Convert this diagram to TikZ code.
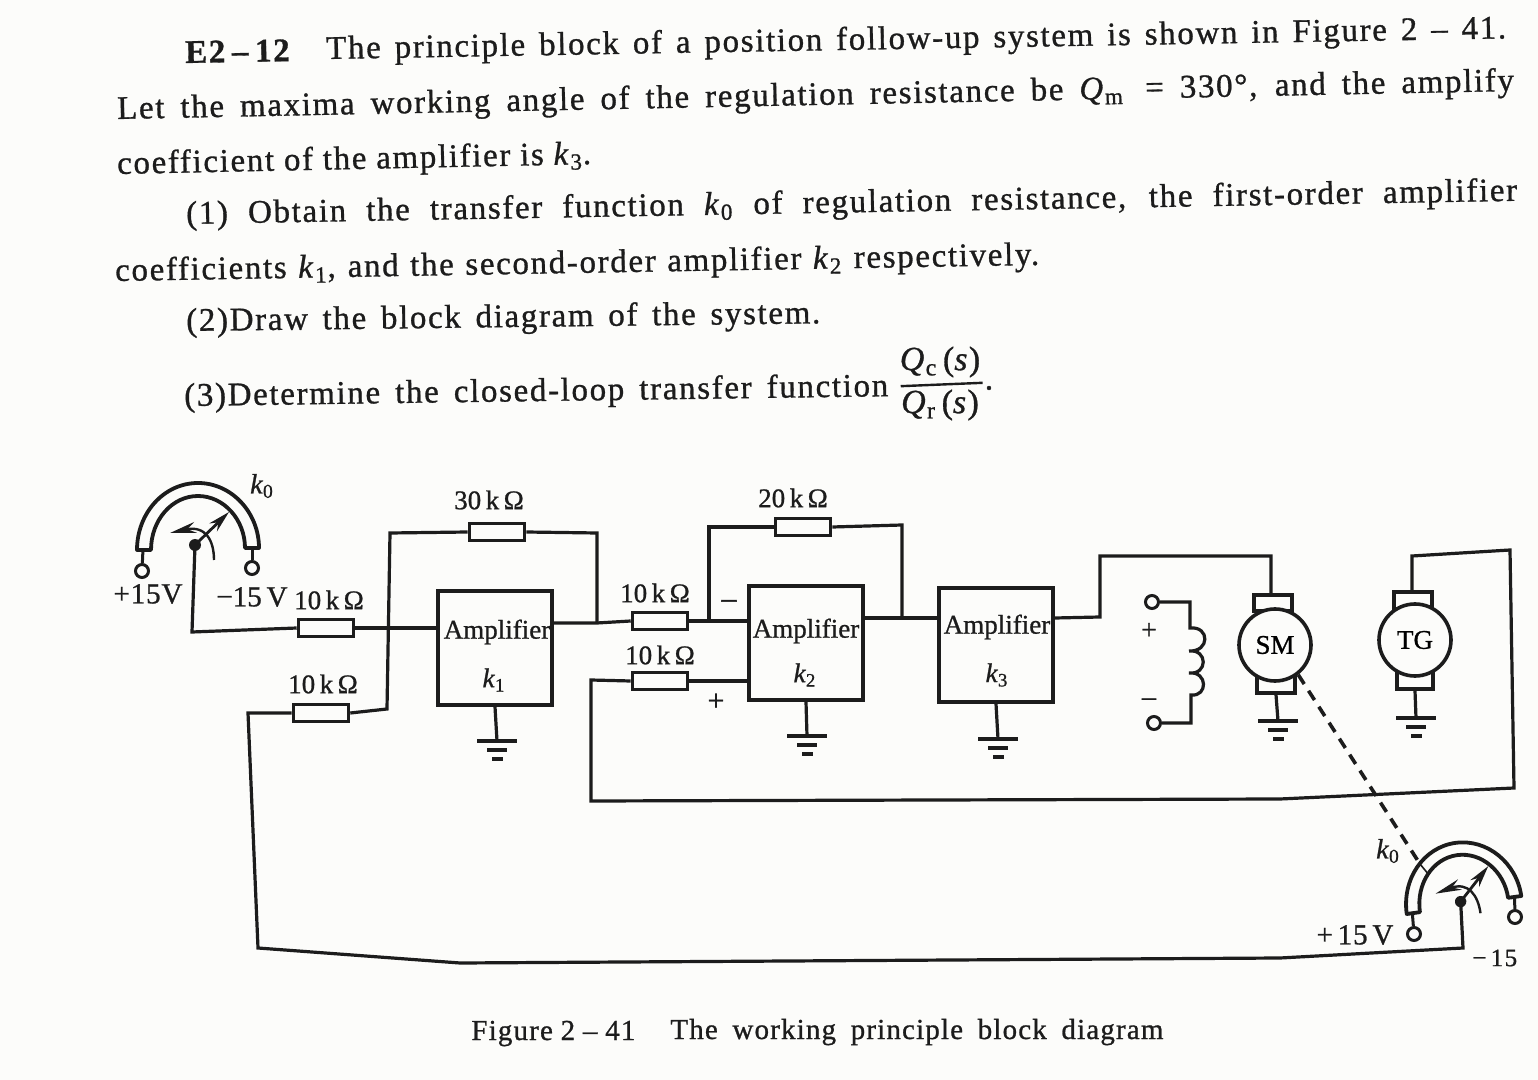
\documentclass[tikz,border=0pt]{standalone}
\usepackage{fontspec}
\setmainfont{Liberation Serif}[RawFeature={embolden=0.9}]
\usetikzlibrary{arrows.meta,calc}
\definecolor{paper}{HTML}{FCFCFA}
\definecolor{ink}{HTML}{1C1C1C}
\newcommand{\ksub}[1]{\textit{k}\textsubscript{#1}}
\newcommand{\Qsub}[1]{\textit{Q}\textsubscript{#1}}
\newcommand{\sprd}[2]{\makebox[\dimexpr #1pt/2\relax][s]{#2}}
\tikzset{
  wire/.style={draw=ink,line width=1.6pt,line join=miter},
  res/.style={draw=ink,line width=1.8pt,fill=paper,minimum width=27.5pt,minimum height=8.5pt,inner sep=0pt},
  amp/.style={draw=ink,line width=1.8pt,minimum width=57pt,minimum height=57pt,inner sep=0pt},
  term/.style={circle,draw=ink,line width=1.5pt,fill=paper,minimum size=6.5pt,inner sep=0pt},
  brush/.style={draw=ink,line width=1.7pt,fill=paper,inner sep=0pt},
  motor/.style={circle,draw=ink,line width=1.8pt,fill=paper,minimum size=36pt,inner sep=0pt,font=\fontsize{13.5}{15}\selectfont},
  lab/.style={inner sep=0pt,text=ink,font=\fontsize{13.5}{15}\selectfont},
  para/.style={inner sep=0pt,anchor=base west,text=ink,font=\fontsize{16.5}{18}\selectfont\addfontfeature{LetterSpace=5}},
  captxt/.style={inner sep=0pt,anchor=base west,text=ink,font=\fontsize{14.5}{17}\selectfont\addfontfeature{LetterSpace=4}},
  gnd/.pic={
    \coordinate (-t) at (0,0);
    \draw[draw=ink,line width=1.7pt] (-20,0) -- (20,0);
    \draw[draw=ink,line width=1.7pt] (-10,9) -- (10,9);
    \draw[draw=ink,line width=2.4pt] (-5,18) -- (6,18);
  },
  pot/.pic={
    \coordinate (-w) at (-3,-4);
    \coordinate (-a) at (-55,0);
    \coordinate (-b) at (54,-2);
    \draw[draw=ink,line width=1.9pt,fill=paper,line join=round]
      (-61,1) .. controls (-61,-36) and (-34,-66) .. (0,-66)
      .. controls (34,-66) and (61,-36) .. (61,-1)
      -- (47,-1) .. controls (47,-29) and (26,-53) .. (0,-53)
      .. controls (-26,-53) and (-47,-29) .. (-47,1) -- cycle;
    \fill[ink] (-3,-4) circle (6);
    \draw[draw=ink,line width=1.4pt,-{Stealth[length=11pt,width=5.5pt]}] (-3,-4) -- (31,-37);
    \draw[draw=ink,line width=1.2pt,-{Stealth[length=13pt,width=5.5pt]}] (16,11) .. controls (16,-8) and (8,-24) .. (-28,-16);
  }
}
\begin{document}
\begin{tikzpicture}[x=0.5pt,y=-0.5pt]
\useasboundingbox[fill=paper] (0,0) rectangle (1538,1080);

% text
\node[para,rotate=1.04] (t1a) at (185,63) {\sprd{104}{\bfseries E2 -- 12}};
\node[para,rotate=1.0] (t1b) at (326,59) {\sprd{1180}{The principle block of a position follow-up system is shown in Figure 2 -- 41.}};
\node[para,rotate=1.15] (t2) at (117,119) {\sprd{1397}{Let the maxima working angle of the regulation resistance be \Qsub{m} \,= 330°, and the amplify}};
\node[para,rotate=1.2] (t3) at (117,174) {\sprd{474}{coefficient of the amplifier is \ksub{3}.}};
\node[para,rotate=1.0] (t4) at (186,224) {\sprd{1331}{(1) Obtain the transfer function \ksub{0} of regulation resistance, the first-order amplifier}};
\node[para,rotate=1.0] (t5) at (115,281) {\sprd{924}{coefficients \ksub{1}, and the second-order amplifier \ksub{2} respectively.}};
\node[para,rotate=0.7] (t6) at (186,331) {\sprd{634}{(2)Draw the block diagram of the system.}};
\node[para,rotate=0.8] (t7) at (184,406) {\sprd{704}{(3)Determine the closed-loop transfer function}};
\node[lab,font=\fontsize{17}{18}\selectfont\addfontfeature{LetterSpace=4}] (fn) at (940,362) {\Qsub{c}\,(\textit{s})};
\node[lab,font=\fontsize{17}{18}\selectfont\addfontfeature{LetterSpace=4}] (fd) at (940,405) {\Qsub{r}\,(\textit{s})};
\coordinate (fl) at ($(fd.north west)+(0,-3)$);
\coordinate (fr) at ($(fn.south east)+(2,5)$);
\draw[draw=ink,line width=1.2pt] (fl) -- (fr);
\node[lab,font=\fontsize{17}{18}\selectfont] (fdot) at (989,388) {.};

% amplifiers
\node[amp] (a1) at (495,648) {};
\node[amp] (a2) at (806,643) {};
\node[amp] (a3) at (996,645) {};
\node[lab] (a1t) at (497,632) {Amplifier};
\node[lab] (a1k) at (494,680) {\ksub{1}};
\node[lab] (a2t) at (806,631) {Amplifier};
\node[lab] (a2k) at (805,675) {\ksub{2}};
\node[lab] (a3t) at (997,627) {Amplifier};
\node[lab] (a3k) at (997,675) {\ksub{3}};

% resistors
\node[res] (r30) at (497,532) {};
\node[res] (r20) at (803,527) {};
\node[res] (ra) at (326,628) {};
\node[res] (rb) at (321,713) {};
\node[res] (rc) at (660,621) {};
\node[res] (rd) at (660,681) {};
\node[lab] (r30t) at (489,500) {30\,k\,Ω};
\node[lab] (r20t) at (793,498) {20\,k\,Ω};
\node[lab] (rat) at (329,600) {10\,k\,Ω};
\node[lab] (rbt) at (323,684) {10\,k\,Ω};
\node[lab] (rct) at (655,593) {10\,k\,Ω};
\node[lab] (rdt) at (660,655) {10\,k\,Ω};
\node[lab,font=\fontsize{15}{17}\selectfont] (mn) at (729,604) {--};
\node[lab,font=\fontsize{15}{17}\selectfont] (pl) at (716,702) {+};

% potentiometers
\pic (pa) at (198,549) {pot};
\pic[rotate=8,scale=0.95] (pb) at (1464,905) {pot};
\node[term] (paa) at (142,571) {};
\node[term] (pab) at (252,568) {};
\node[term] (pba) at (1414,934) {};
\node[term] (pbb) at (1515,917) {};
\draw[draw=ink,line width=1.5pt] (pa-a) -- (paa);
\draw[draw=ink,line width=1.5pt] (pa-b) -- (pab);
\draw[draw=ink,line width=1.5pt] (pb-a) -- (pba);
\draw[draw=ink,line width=1.5pt] (pb-b) -- (pbb);
\node[lab,font=\fontsize{14}{16}\selectfont] (k0a) at (262,486) {\ksub{0}};
\node[lab,font=\fontsize{14}{16}\selectfont] (k0b) at (1388,851) {\ksub{0}};
\node[lab,font=\fontsize{14.5}{16}\selectfont\addfontfeature{LetterSpace=3}] (pp) at (148,594) {+15V};
\node[lab,font=\fontsize{14.5}{16}\selectfont] (pm) at (252,597) {−15\,V};
\node[lab,font=\fontsize{14.5}{16}\selectfont\addfontfeature{LetterSpace=3}] (qp) at (1355,935) {+\,15\,V};
\node[lab,anchor=west,font=\fontsize{12.5}{14}\selectfont\addfontfeature{LetterSpace=6}] (qm) at (1472,958) {−\,15};

% motor and tacho
\node[brush,minimum width=19pt,minimum height=8pt] (smt) at (1273,603) {};
\node[brush,minimum width=19pt,minimum height=9pt] (smb) at (1276,684) {};
\node[brush,minimum width=19pt,minimum height=9pt] (tgt) at (1413,601) {};
\node[brush,minimum width=18pt,minimum height=9pt] (tgb) at (1415,680) {};
\node[motor] (sm) at (1275,645) {SM};
\node[motor] (tg) at (1415,640) {TG};

% grounds
\pic (g1) at (497,741) {gnd};
\pic (g2) at (807,736) {gnd};
\pic (g3) at (998,739) {gnd};
\pic (g4) at (1278,721) {gnd};
\pic (g5) at (1416,718) {gnd};
\draw[wire] (a1.south) -- (g1-t);
\draw[wire] (a2.south) -- (g2-t);
\draw[wire] (a3.south) -- (g3-t);
\draw[wire] (smb.south) -- (g4-t);
\draw[wire] (tgb.south) -- (g5-t);

% field coil
\node[term] (ca) at (1152,602) {};
\node[term] (cb) at (1154,723) {};
\draw[wire] (ca) -- (1190,602) -- (1190,628)
  .. controls (1210,626) and (1210,652) .. (1189,651)
  .. controls (1208,649) and (1208,675) .. (1189,673)
  .. controls (1208,671) and (1208,697) .. (1191,695)
  -- (1191,723) -- (cb);
\node[lab,font=\fontsize{14}{16}\selectfont] (cp) at (1149,631) {+};
\node[lab,font=\fontsize{14}{16}\selectfont] (cm) at (1149,702) {--};

% wiring
\coordinate (j1) at (597,623);
\coordinate (j2) at (709,621);
\coordinate (j3) at (902,618);
\coordinate (sa) at (1271,556);
\coordinate (sb) at (1412,556);
\draw[wire] (pa-w) -- (192,632) -- (ra.west);
\draw[wire] (ra.east) -- (ra.east -| a1.west);
\draw[wire] (r30.west) -- (390,533) -- (387,709) -- (rb.east);
\draw[wire] (r30.east) -- (597,533) -- (j1);
\draw[wire] (a1.east |- j1) -- (j1) -- (rc.west);
\draw[wire] (rc.east) -- (j2) -- (j2 -| a2.west);
\draw[wire] (j2) -- (709,527) -- (r20.west);
\draw[wire] (r20.east) -- (902,525) -- (j3);
\draw[wire] (a2.east |- j3) -- (a3.west |- j3);
\draw[wire] (a3.east |- j3) -- (1100,617) -- (1100,556) -- (sa) -- (sa |- smt.north);
\draw[wire] (rd.east) -- (rd.east -| a2.west);
\draw[wire] (rd.west) -- (591,680) -- (591,801) -- (1280,799) -- (1514,788) -- (1510,550) -- (sb) -- (sb |- tgt.north);
\draw[wire] (rb.west) -- (248,713) -- (258,948) -- (460,963) -- (1280,958) -- (1463,948) -- (pb-w);
\draw[draw=ink,line width=1.8pt,dash pattern=on 5.5pt off 4pt] (sm.-52) -- (1420,864);
\draw[draw=ink,line width=0.8pt] (1420,864) -- (1429,875);

% caption
\node[captxt] (c1) at (471,1040) {\sprd{164}{Figure 2 -- 41}};
\node[captxt] (c2) at (670,1039) {\sprd{493}{The working principle block diagram}};
\end{tikzpicture}
\end{document}
